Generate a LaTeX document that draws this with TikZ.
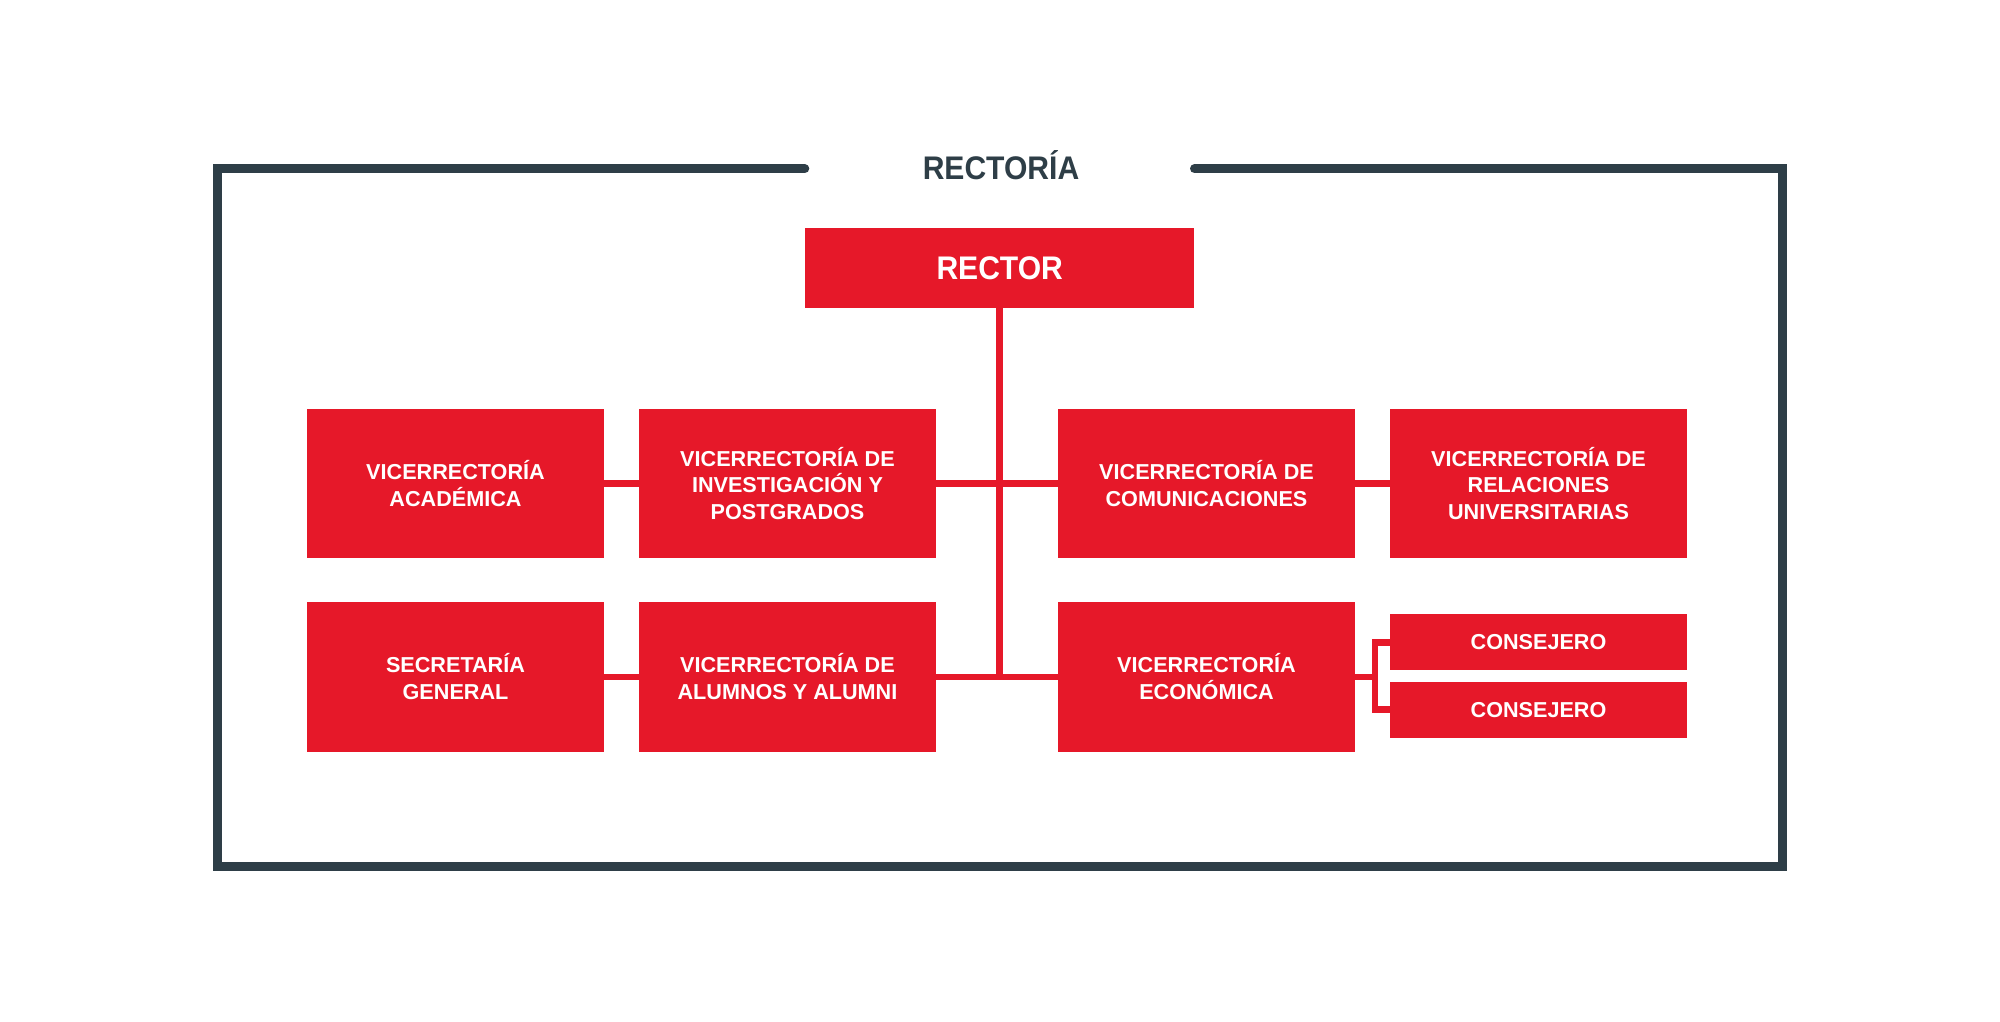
\documentclass[tikz,border=0pt]{standalone}
\usepackage{fontspec}
\setmainfont{Liberation Sans}
\newfontfamily\headfont[FakeStretch=0.92]{Liberation Sans}
\definecolor{unired}{RGB}{230,24,41}
\definecolor{slate}{RGB}{46,62,71}
\tikzset{
  office/.style={
    rectangle,
    fill=unired,
    text=white,
    minimum width=29.7mm,
    minimum height=14.95mm,
    inner sep=0pt,
    outer sep=0pt,
    align=center,
    font=\fontsize{6.15}{7.6}\selectfont\bfseries
  },
  member/.style={
    office,
    minimum height=5.63mm
  },
  head/.style={
    office,
    minimum width=38.93mm,
    minimum height=8.03mm,
    font=\headfont\fontsize{9.3}{11}\selectfont\bfseries
  },
  link/.style={
    draw=unired,
    line width=1.85pt
  },
  frameline/.style={
    draw=slate,
    line width=2.55pt,
    line cap=round
  }
}

\begin{document}
\begin{tikzpicture}
  % Fixed page size, as in the reference
  \useasboundingbox (0,0) rectangle (20,-10.22);

  % Outer frame with its title
  \draw[frameline] (8.048,-1.687) -- (2.178,-1.687) -- (2.178,-8.662) -- (17.82,-8.662) -- (17.82,-1.687) -- (11.945,-1.687);
  \node[anchor=base, text=slate, font=\headfont\fontsize{9.3}{11}\selectfont\bfseries] (title) at (10.01,-1.793) {RECTORÍA};

  % Rector
  \node[head] (rector) at (9.997,-2.682) {RECTOR};

  % First row
  \node[office] (acad) at (4.555,-4.833) {VICERRECTORÍA\\ACADÉMICA};
  \node[office] (invest) at (7.875,-4.833) {VICERRECTORÍA DE\\INVESTIGACIÓN Y\\POSTGRADOS};
  \node[office] (comun) at (12.065,-4.833) {VICERRECTORÍA DE\\COMUNICACIONES};
  \node[office] (relac) at (15.385,-4.833) {VICERRECTORÍA DE\\RELACIONES\\UNIVERSITARIAS};

  % Second row
  \node[office] (secgen) at (4.555,-6.768) {SECRETARÍA\\GENERAL};
  \node[office] (alumnos) at (7.875,-6.768) {VICERRECTORÍA DE\\ALUMNOS Y ALUMNI};
  \node[office] (econ) at (12.065,-6.768) {VICERRECTORÍA\\ECONÓMICA};
  \node[member] (cons-a) at (15.385,-6.423) {CONSEJERO};
  \node[member] (cons-b) at (15.385,-7.097) {CONSEJERO};

  % Connections
  \draw[link] (rector.south) -- (rector.south |- econ.west);
  \draw[link] (acad) -- (invest);
  \draw[link] (invest) -- (comun);
  \draw[link] (comun) -- (relac);
  \draw[link] (secgen) -- (alumnos);
  \draw[link] (alumnos) -- (econ);

  \coordinate (joint) at (13.75,-6.768);
  \draw[link] (econ.east) -- (joint);
  \draw[link] (cons-a.west) -| (joint) |- (cons-b.west);
\end{tikzpicture}
\end{document}
